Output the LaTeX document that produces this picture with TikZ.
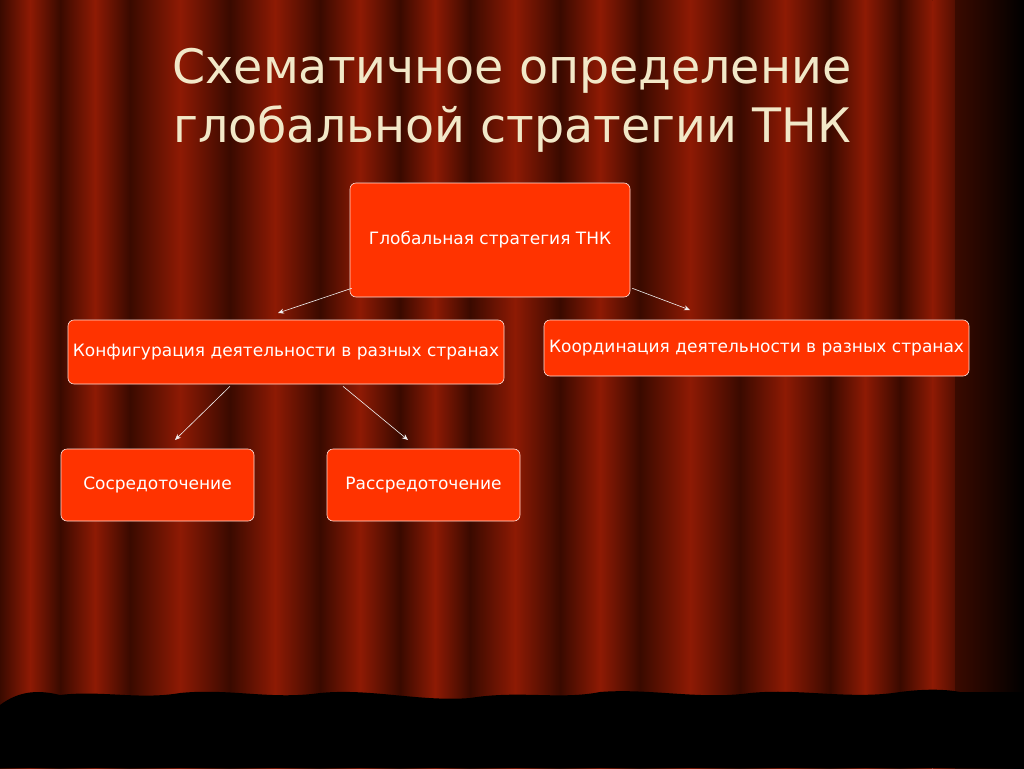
\documentclass[tikz,border=0pt]{standalone}
\usepackage{fontspec}
\setmainfont{DejaVu Sans}
\usetikzlibrary{arrows.meta}
\definecolor{dk}{HTML}{3A0A00}
\definecolor{rd}{HTML}{8E1A04}
\definecolor{bx}{HTML}{FF3300}
\definecolor{tt}{HTML}{F2E8C8}
\tikzset{
 box/.style={draw=white!85!bx, line width=0.6pt, fill=bx, rounded corners=6pt, text=white, font=\fontsize{17}{20}\selectfont, align=center, inner sep=2pt},
 arr/.style={draw=white!90!gray, line width=0.6pt, -{Stealth[length=6pt,width=5pt]}},
 ttl/.style={font=\fontsize{47.5}{59}\selectfont, align=center}
}
\begin{document}
\begin{tikzpicture}[x=1pt,y=-1pt]
\useasboundingbox (0,0) rectangle (1024,768);
\fill[dk] (0,0) rectangle (1024,768);
% curtain stripes
\foreach \a/\b in {0/60,60/130,130/230,230/320,320/400,400/470,470/560,560/640,640/740,740/830,830/900,900/965}{
  \shade[left color=dk, right color=rd] (\a,0) rectangle ({(\a+\b)/2},768);
  \shade[left color=rd, right color=dk] ({(\a+\b)/2},0) rectangle (\b,768);
}
\shade[left color=dk, right color=black] (955,0) rectangle (1024,768);
% bottom
\fill[black] (0,768) -- (0,705) .. controls (20,690) and (40,690) .. (60,695)
 .. controls (100,690) and (140,700) .. (180,693) .. controls (230,688) and (270,700) .. (320,693)
 .. controls (370,688) and (420,702) .. (470,698) .. controls (520,690) and (560,700) .. (600,692)
 .. controls (650,688) and (700,700) .. (750,693) .. controls (800,688) and (850,700) .. (900,692)
 .. controls (930,688) and (950,690) .. (960,692) -- (1024,692) -- (1024,768) -- cycle;
% title
\node[ttl,text=tt] (title) at (512,100) {Схематичное определение\\глобальной стратегии ТНК};
% boxes
\node[box, minimum width=280pt, minimum height=114pt] (top) at (490,240) {Глобальная стратегия ТНК};
\node[box, minimum width=436pt, minimum height=64pt] (conf) at (286,352) {Конфигурация деятельности в разных странах};
\node[box, minimum width=425pt, minimum height=56pt] (coord) at (756.5,348) {Координация деятельности в разных странах};
\node[box, minimum width=193pt, minimum height=72pt] (sos) at (157.5,485) {Сосредоточение};
\node[box, minimum width=193pt, minimum height=72pt] (ras) at (423.5,485) {Рассредоточение};
% arrows
\coordinate (a1) at (278,313); \coordinate (a2) at (690,310);
\coordinate (a3) at (175,440); \coordinate (a4) at (408,440);
\draw[arr] (top.south west) ++(2,-9) coordinate (s1) -- (a1);
\draw[arr] (top.south east) ++(2,-9) coordinate (s2) -- (a2);
\draw[arr] (conf.south) ++(-56,2) coordinate (s3) -- (a3);
\draw[arr] (conf.south) ++(57,2) coordinate (s4) -- (a4);
\end{tikzpicture}
\end{document}
